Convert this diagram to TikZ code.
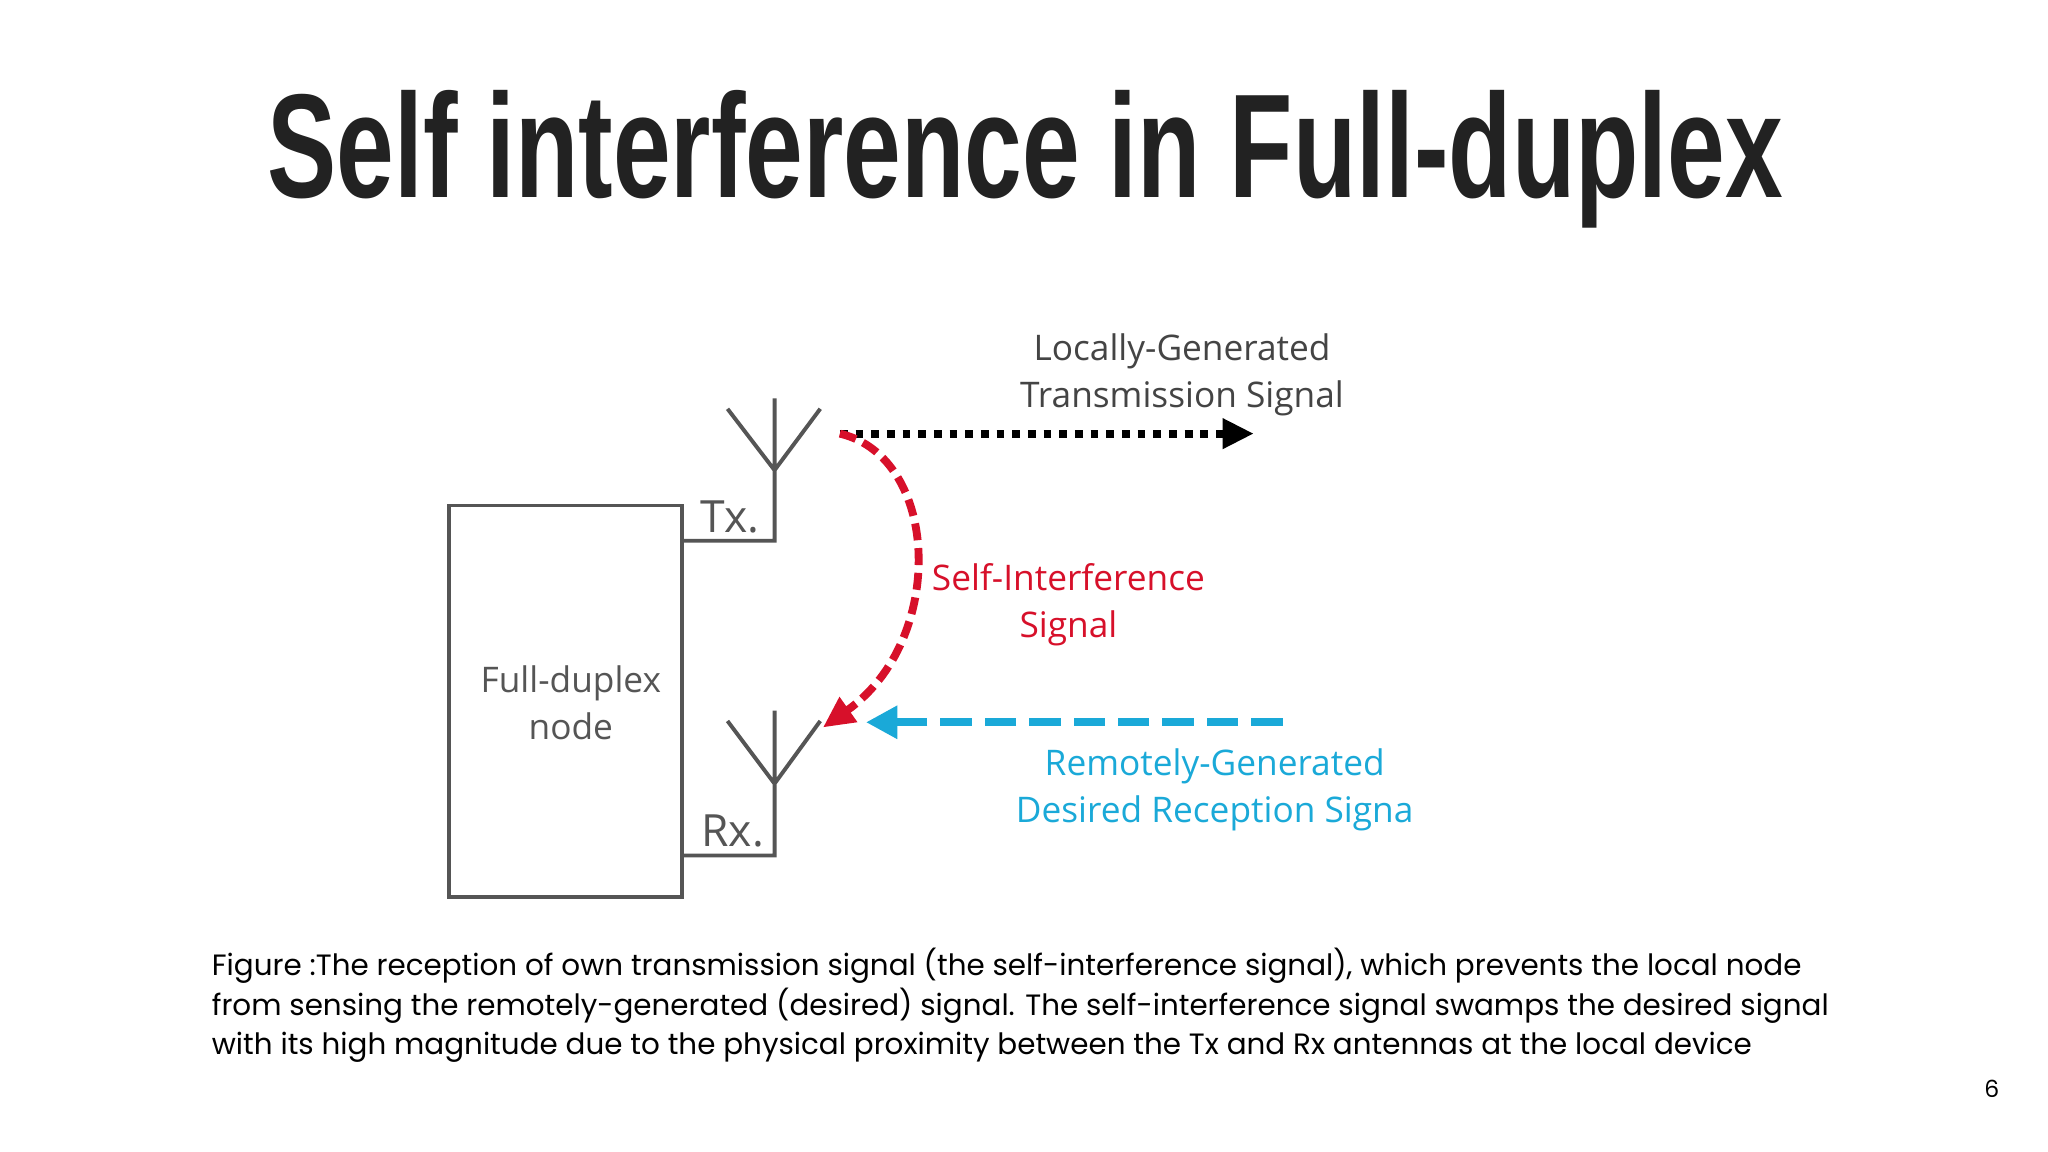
\documentclass[tikz,border=0pt]{standalone}
\usepackage{fontspec}
\setmainfont{Open Sans}
\newfontfamily\capfont{Poppins}
\newfontfamily\ttlfont{Liberation Sans}
\usetikzlibrary{arrows.meta}
\definecolor{gr}{HTML}{555555}
\definecolor{rd}{HTML}{D7102A}
\definecolor{cy}{HTML}{1AA9D8}
\begin{document}
\begin{tikzpicture}[x=1pt,y=-1pt,
  wire/.style={draw=gr,line width=3pt},
  lbl/.style={font=\fontsize{27}{36}\selectfont,align=center,inner sep=0pt}]
\useasboundingbox[fill=white] (0,0) rectangle (1568,882);
\node[inner sep=0pt] (title) at (785,122) {\resizebox{1160pt}{82pt}{\ttlfont\bfseries\color[HTML]{222222}Self interference in Full-duplex}};
\node[wire,draw,minimum width=178pt,minimum height=300pt,inner sep=0pt] (box) at (433,537) {};
\node[lbl,text=gr] (nl) at (437,538) {Full-duplex\\node};
% Tx antenna
\coordinate (tx0) at (522,414); \coordinate (tx1) at (593,414); \coordinate (txv) at (593,360);
\coordinate (txl) at (557,313); \coordinate (txr) at (628,313); \coordinate (txt) at (593,305);
\draw[wire] (tx0) -- (tx1) -- (txv) -- (txl) (txv) -- (txr) (txv) -- (txt);
\node[lbl,text=gr,font=\fontsize{34}{36}\selectfont] (txlab) at (559,396) {Tx.};
% Rx antenna
\coordinate (rx0) at (522,655); \coordinate (rx1) at (593,655); \coordinate (rxv) at (593,600);
\coordinate (rxl) at (557,552); \coordinate (rxr) at (628,552); \coordinate (rxt) at (593,544);
\draw[wire] (rx0) -- (rx1) -- (rxv) -- (rxl) (rxv) -- (rxr) (rxv) -- (rxt);
\node[lbl,text=gr,font=\fontsize{34}{36}\selectfont] (rxlab) at (561,636) {Rx.};
% arrows
\coordinate (s) at (643,332); \coordinate (e1) at (960,332);
\coordinate (e2) at (630,557); \coordinate (c0) at (982,553); \coordinate (c1) at (663,553);
\draw[line width=6pt,dash pattern=on 6pt off 6pt,-{Triangle[length=24pt,width=22pt]}] (s) -- (e1);
\draw[rd,line width=6pt,dash pattern=on 13pt off 6pt,-{Triangle[length=24pt,width=22pt]}] (s) .. controls (720,350) and (725,490) .. (e2);
\draw[cy,line width=6pt,dash pattern=on 24pt off 10pt,-{Triangle[length=24pt,width=24pt]}] (c0) -- (c1);
\node[lbl,text=gr!80!black] (t1) at (905,287) {Locally-Generated\\Transmission Signal};
\node[lbl,text=rd] (t2) at (818,463) {Self-Interference\\Signal};
\node[lbl,text=cy] (t3) at (930,605) {Remotely-Generated\\Desired Reception Signa};
\node[anchor=north west,inner sep=0pt,align=left,font=\capfont\fontsize{22.5}{30}\selectfont,text=black] (cap) at (162,726)
{Figure :The reception of own transmission signal (the self-interference signal), which prevents the local node\\
from sensing the remotely-generated (desired) signal. The self-interference signal swamps the desired signal\\
with its high magnitude due to the physical proximity between the Tx and Rx antennas at the local device};
\node[font=\capfont\fontsize{18}{20}\selectfont] (pg) at (1525,834) {6};
\end{tikzpicture}
\end{document}
